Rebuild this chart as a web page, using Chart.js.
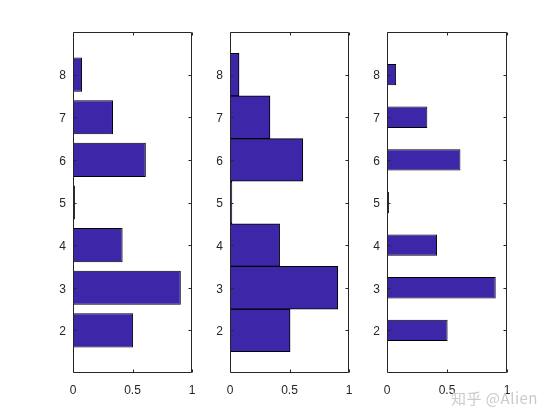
<!DOCTYPE html>
<html>
<head>
<meta charset="utf-8">
<script src="https://cdn.jsdelivr.net/npm/chart.js@4"></script>
<style>
  html, body { margin: 0; padding: 0; background: #ffffff; }
  #wrap { position: relative; width: 560px; height: 420px; overflow: hidden; background: #ffffff; }
  canvas { position: absolute; left: 0; top: 0; }
  #wm { position: absolute; left: 451px; top: 387px; font-family: "Noto Sans CJK SC", sans-serif; font-size: 15px; color: #cbcbcb; white-space: nowrap; letter-spacing: 0.5px; }
</style>
</head>
<body>
<div id="wrap">
  <canvas id="c1" width="560" height="420"></canvas>
  <canvas id="c2" width="560" height="420"></canvas>
  <canvas id="c3" width="560" height="420"></canvas>
  <div id="wm">知乎 @Alien</div>
</div>
<script>
// ---- data ----
const categories = [2, 3, 4, 5, 6, 7, 8];
const values = [0.505, 0.906, 0.417, 0.016, 0.612, 0.336, 0.076];
const barWidths = [0.8, 1.0, 0.5];
const xTicks = [0, 0.5, 1];
const yTicks = [2, 3, 4, 5, 6, 7, 8];
const xRange = [0, 1];
const yRange = [1, 9];

// ---- styling / layout ----
const axisColor = '#262626';
const barColor = '#3e26a8';
const panelLeft = [73, 230, 387];
const panelRight = [192, 349, 507];
const panelTop = 32;
const panelBottom = 373;
const yAxisW = 40, xAxisH = 30;
const W = 560, H = 420;
const tickFont = { family: 'Liberation Sans, Arial, sans-serif', size: 12 };

const boxTicksPlugin = {
  id: 'boxTicks',
  afterDatasetsDraw(chart) {
    const ctx = chart.ctx;
    const a = chart.chartArea;
    const xs = chart.scales.x, ys = chart.scales.y;
    const L = Math.round(a.left) + 0.5, R = Math.round(a.right) - 0.5;
    const T = Math.round(a.top) + 0.5, B = Math.round(a.bottom) - 0.5;
    const tl = 3;
    ctx.save();
    ctx.strokeStyle = axisColor;
    ctx.lineWidth = 1;
    ctx.beginPath();
    ctx.rect(L, T, R - L, B - T);
    xTicks.forEach(v => {
      const px = Math.round(xs.getPixelForValue(v)) + 0.5;
      ctx.moveTo(px, B); ctx.lineTo(px, B - tl);
      ctx.moveTo(px, T); ctx.lineTo(px, T + tl);
    });
    yTicks.forEach(v => {
      const py = Math.round(ys.getPixelForValue(v)) + 0.5;
      ctx.moveTo(L, py); ctx.lineTo(L + tl, py);
      ctx.moveTo(R, py); ctx.lineTo(R - tl, py);
    });
    ctx.stroke();
    ctx.restore();
  }
};

function makePanel(id, k) {
  new Chart(document.getElementById(id), {
    type: 'bar',
    data: {
      datasets: [{
        data: categories.map((c, i) => ({ x: values[i], y: c })),
        backgroundColor: barColor,
        borderColor: '#000000',
        borderWidth: 1,
        borderSkipped: false,
        barPercentage: barWidths[k],
        categoryPercentage: 1.0
      }]
    },
    options: {
      indexAxis: 'y',
      responsive: false,
      animation: false,
      devicePixelRatio: 1,
      layout: {
        padding: { left: panelLeft[k] - yAxisW, right: W - panelRight[k], top: panelTop, bottom: H - panelBottom - xAxisH }
      },
      plugins: { legend: { display: false }, tooltip: { enabled: false } },
      scales: {
        x: {
          type: 'linear', position: 'bottom', min: xRange[0], max: xRange[1], offset: false,
          grid: { display: false, drawTicks: false },
          border: { display: false },
          ticks: { color: axisColor, font: tickFont, padding: 10, maxRotation: 0, autoSkip: false,
                   callback: v => String(v) },
          afterBuildTicks: s => { s.ticks = xTicks.map(v => ({ value: v })); },
          afterFit: s => { s.height = xAxisH; }
        },
        y: {
          type: 'linear', position: 'left', min: yRange[0], max: yRange[1], offset: false,
          grid: { display: false, drawTicks: false, offset: false },
          border: { display: false },
          ticks: { color: axisColor, font: tickFont, padding: 7, autoSkip: false, labelOffset: 1.5,
                   callback: v => String(v) },
          afterBuildTicks: s => { s.ticks = yTicks.map(v => ({ value: v })); },
          afterFit: s => { s.width = yAxisW; }
        }
      }
    },
    plugins: [boxTicksPlugin]
  });
}

makePanel('c1', 0);
makePanel('c2', 1);
makePanel('c3', 2);
</script>
</body>
</html>
